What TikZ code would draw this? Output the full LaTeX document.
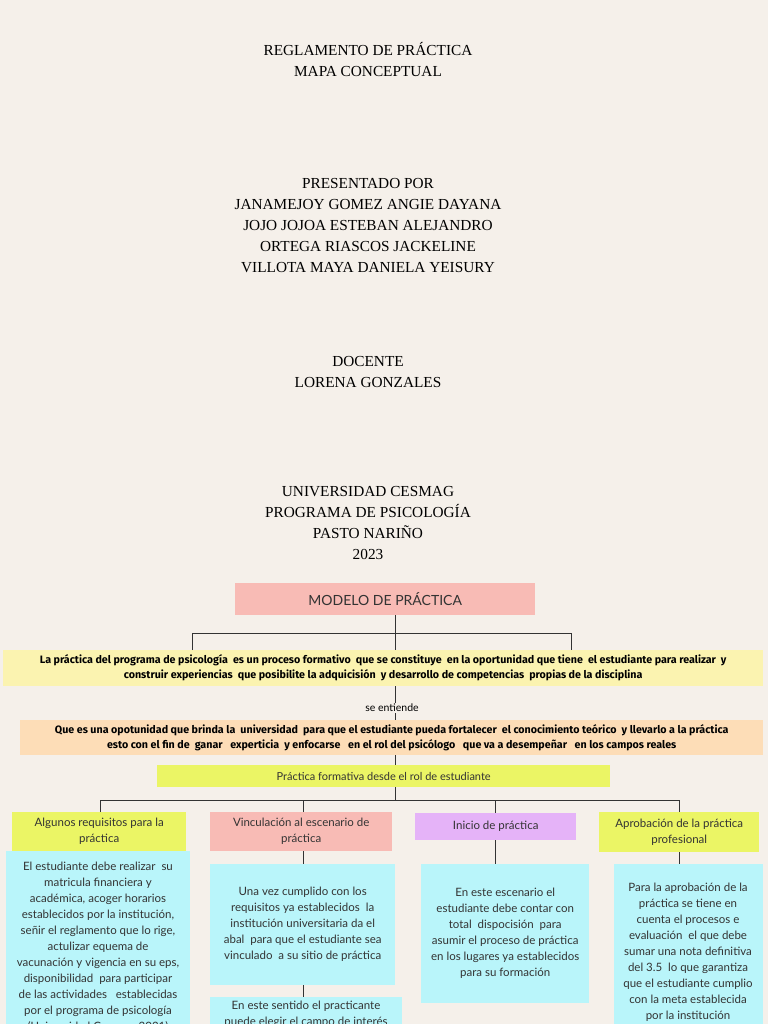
\documentclass[tikz,border=0pt]{standalone}
\usepackage{fontspec}
\setmainfont{Liberation Serif}
\newfontfamily\boxfont{Lato}
\newfontfamily\condfont{Fira Sans}
\definecolor{bg}{HTML}{F5F0EA}
\definecolor{pinkc}{HTML}{F8BBB5}
\definecolor{paley}{HTML}{FBF3B0}
\definecolor{orangec}{HTML}{FDDDB7}
\definecolor{limec}{HTML}{EBF565}
\definecolor{violc}{HTML}{E5B3F8}
\definecolor{cyanc}{HTML}{B9F5FA}
\definecolor{ink}{HTML}{333333}
\tikzset{
 ttl/.style={font=\fontsize{15.3}{21}\selectfont, align=center, text=black},
 bx/.style={anchor=north west, inner sep=0pt, align=center, font=\boxfont\fontsize{11.5}{16}\selectfont, text=ink},
 ln/.style={draw=ink, line width=0.8pt},
}
\begin{document}
\begin{tikzpicture}[x=1pt,y=-1pt]
\useasboundingbox (0,0) rectangle (768,1024);
\clip (0,0) rectangle (768,1024);
\fill[bg] (0,0) rectangle (768,1024);
\node[ttl] (t1) at (368,60) {REGLAMENTO DE PRÁCTICA\\MAPA CONCEPTUAL};
\node[ttl] (t2) at (368,226) {PRESENTADO POR\\JANAMEJOY GOMEZ ANGIE DAYANA\\JOJO JOJOA ESTEBAN ALEJANDRO\\ORTEGA RIASCOS JACKELINE\\VILLOTA MAYA DANIELA YEISURY};
\node[ttl] (t3) at (368,372) {DOCENTE\\LORENA GONZALES};
\node[ttl] (t4) at (368,523) {UNIVERSIDAD CESMAG\\PROGRAMA DE PSICOLOGÍA\\PASTO NARIÑO\\2023};
% boxes
\node[bx, fill=pinkc, minimum width=300, minimum height=32, font=\boxfont\fontsize{14}{16}\selectfont] (m) at (235,583) {MODELO DE PRÁCTICA};
\node[bx, fill=paley, minimum width=760, minimum height=36, font=\condfont\bfseries\fontsize{10.7}{15}\selectfont, text=black] (p) at (3,650) {La práctica del programa de psicología \ es un proceso formativo \ que se constituye \ en la oportunidad que tiene \ el estudiante para realizar \ y\\construir experiencias \ que posibilite la adquicisión \ y desarrollo de competencias \ propias de la disciplina};
\node[font=\boxfont\fontsize{10.5}{12}\selectfont, text=black, inner sep=1pt] (se) at (392,708) {se entiende};
\node[bx, fill=orangec, minimum width=743, minimum height=35, font=\condfont\bfseries\fontsize{10.7}{15}\selectfont, text=black] (q) at (20,720) {Que es una opotunidad que brinda la \ universidad \ para que el estudiante pueda fortalecer \ el conocimiento teórico \ y llevarlo a la práctica\\esto con el fin de \ ganar \ \ experticia \ y enfocarse \ \ en el rol del psicólogo \ \ que va a desempeñar \ \ en los campos reales};
\node[bx, fill=limec, minimum width=453, minimum height=22, font=\boxfont\fontsize{11}{14}\selectfont] (f) at (157,765) {Práctica formativa desde el rol de estudiante};
\node[bx, fill=limec, minimum width=174, minimum height=39] (a) at (12,812) {Algunos requisitos para la\\práctica};
\node[bx, fill=pinkc, minimum width=182, minimum height=39] (b) at (210,812) {Vinculación al escenario de\\práctica};
\node[bx, fill=violc, minimum width=161, minimum height=27] (c) at (415,813) {Inicio de práctica};
\node[bx, fill=limec, minimum width=160, minimum height=40] (d) at (599,812) {Aprobación de la práctica\\profesional};
\node[bx, fill=cyanc, minimum width=184, minimum height=190, anchor=north west] (a1) at (6,851) {};
\node[bx, anchor=north, text=ink] at (98,862) {El estudiante debe realizar \ su\\matricula financiera y\\académica, acoger horarios\\establecidos por la institución,\\señir el reglamento que lo rige,\\actulizar equema de\\vacunación y vigencia en su eps,\\disponibilidad \ para participar\\de las actividades \ \ establecidas\\por el programa de psicología\\(Universidad Cesmag, 2021)};
\node[bx, fill=cyanc, minimum width=185, minimum height=121] (b1) at (210,864) {Una vez cumplido con los\\requisitos ya establecidos \ la\\institución universitaria da el\\abal \ para que el estudiante sea\\vinculado \ a su sitio de práctica};
\node[bx, fill=cyanc, minimum width=192, minimum height=60, anchor=north west] (b2) at (210,997) {};
\node[bx, anchor=north] at (306,1001) {En este sentido el practicante\\puede elegir el campo de interés};
\node[bx, fill=cyanc, minimum width=168, minimum height=139] (c1) at (421,864) {En este escenario el\\estudiante debe contar con\\total \ dispocisión \ para\\asumir el proceso de práctica\\en los lugares ya establecidos\\para su formación};
\node[bx, fill=cyanc, minimum width=149, minimum height=180, anchor=north west] (d1) at (614,864) {};
\node[bx, anchor=north] at (688,883) {Para la aprobación de la\\práctica se tiene en\\cuenta el procesos e\\evaluación \ el que debe\\sumar una nota definitiva\\del 3.5 \ lo que garantiza\\que el estudiante cumplio\\con la meta establecida\\por la institución};
% connectors
\coordinate (h1) at (395,633);
\draw[ln] (m.south -| h1) -- (h1);
\draw[ln] (192,650) -- (192,633) -- (571,633) -- (571,650);
\draw[ln] (h1) -- (p.north -| h1);
\draw[ln] (p.south -| h1) -- (se.north -| h1);
\draw[ln] (se.south -| h1) -- (q.north -| h1);
\draw[ln] (q.south -| h1) -- (f.north -| h1);
\coordinate (h2) at (395,800);
\draw[ln] (f.south -| h2) -- (h2);
\draw[ln] (100,812) -- (100,800) -- (679,800) -- (679,812);
\draw[ln] (303,800) -- (303,812);
\draw[ln] (495,800) -- (495,813);
\draw[ln] (b.south -| 303,0) -- (b1.north -| 303,0);
\draw[ln] (b1.south -| 303,0) -- (b2.north -| 303,0);
\draw[ln] (c.south -| 495,0) -- (c1.north -| 495,0);
\draw[ln] (d.south -| 679,0) -- (d1.north -| 679,0);
\end{tikzpicture}
\end{document}
